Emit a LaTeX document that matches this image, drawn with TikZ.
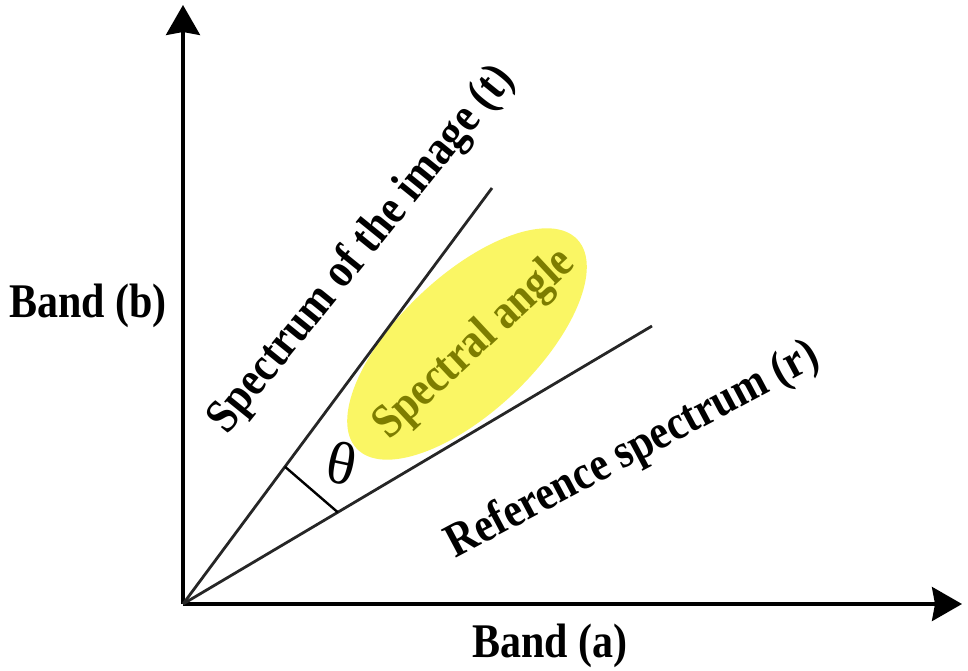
\documentclass[tikz,border=0pt]{standalone}
\usepackage{fontspec}
\setmainfont{Liberation Serif}
\usetikzlibrary{arrows.meta,calc,shapes.geometric}

\definecolor{angleyellow}{RGB}{250,246,100}
\definecolor{angleolive}{RGB}{125,125,0}

\tikzset{
    axis/.style={line width=1.7pt, -{Stealth[length=15pt,width=17pt,inset=1.5pt]}},
    spec/.style={line width=1.4pt, draw=black!85},
    lbl/.style={font=\fontsize{21}{25}\selectfont\bfseries, inner sep=0pt, rotate=#1, yscale=1.15},
    lbl/.default=0,
}

\begin{document}
\begin{tikzpicture}[x=0.5pt,y=0.5pt]
    \useasboundingbox (-183,-66) rectangle (785,604);
    \coordinate (o) at (0,0);
    \coordinate (xa) at (779,0);
    \coordinate (yb) at (0,599);
    \coordinate (t) at (309,416);
    \coordinate (r) at (469,278);
    \node[ellipse, fill=angleyellow, minimum width=152pt, minimum height=68pt, inner sep=0pt, rotate=43.5] at (284,260) (blob) {};
    \coordinate (mt) at ($(o)!0.33!(t)$);
    \coordinate (mr) at ($(o)!0.33!(r)$);
	\draw[axis] (o) -- (xa);
    \draw[axis] (o) -- (yb);
    \draw[spec] (o) -- (t);
    \draw[spec] (o) -- (r);
    \draw[line width=1.2pt] (mt) -- (mr);
    \node[font=\fontsize{30}{32}\selectfont, rotate=-12] at (159,141) (theta) {θ};
    \node[lbl, anchor=base] at (-95,287) (bandb) {Band (b)};
    \node[lbl, anchor=base] at (367,-53) (banda) {Band (a)};
    \node[lbl=51] at (179,354) (tlbl) {Spectrum of the image (t)};
    \node[lbl=28] at (450,153) (rlbl) {Reference spectrum (r)};
    \node[lbl=43, text=angleolive] at (292,259) (salbl) {Spectral angle};
\end{tikzpicture}
\end{document}
